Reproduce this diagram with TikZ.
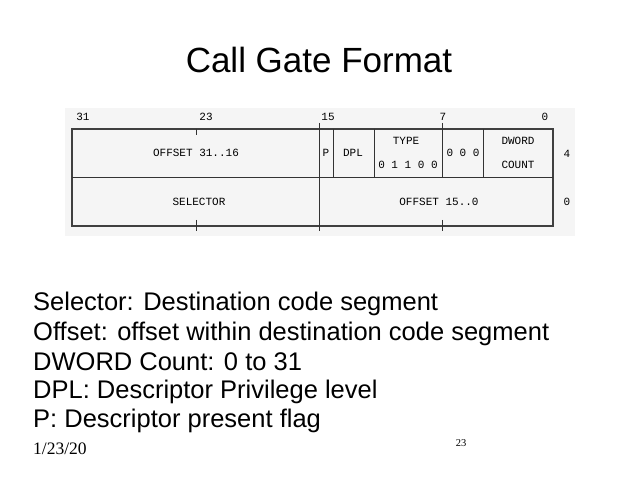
\documentclass[tikz,border=0pt]{standalone}
\usepackage{fontspec}
\setmainfont{Liberation Sans}
\newfontfamily\serif{Liberation Serif}
\newfontfamily\mono{Liberation Mono}
\begin{document}
\begin{tikzpicture}[x=1pt,y=-1pt,
  bit/.style={font=\mono\fontsize{11}{11}\selectfont,inner sep=0pt},
  body/.style={anchor=west,font=\fontsize{25.5}{25.5}\selectfont,inner sep=0pt},
  frame/.style={draw=black!75,line width=1.6pt},
  cell/.style={draw=black!80,line width=0.9pt}]
\useasboundingbox (0,0) rectangle (638,478);
\fill[black!4] (65,108) rectangle (575,236);
\node[font=\fontsize{35}{35}\selectfont] (title) at (319,60) {Call Gate Format};
% bit numbers
\node[bit] (b31) at (83,117) {31};
\node[bit] (b23) at (206,117) {23};
\node[bit] (b15) at (328,117) {15};
\node[bit] (b7) at (443,117) {7};
\node[bit] (b0) at (545,117) {0};
% frame
\draw[frame] (72,129) rectangle (553,226);
\draw[cell] (72,177) -- (553,177);
\draw[cell] (319,123) -- (319,231);
\draw[cell] (333,129) -- (333,177);
\draw[cell] (374,129) -- (374,177);
\draw[cell] (442,123) -- (442,177);
\draw[cell] (483,129) -- (483,177);
\draw[cell] (196,129) -- (196,135);
\draw[cell] (196,220) -- (196,231);
\draw[cell] (442,220) -- (442,231);
% fields
\node[bit] (off1) at (196,153) {OFFSET 31..16};
\node[bit] (p) at (326,153) {P};
\node[bit] (dpl) at (353,153) {DPL};
\node[bit] (type) at (406,141) {TYPE};
\node[bit] (typev) at (408,165) {0 1 1 0 0};
\node[bit] (zero) at (463,153) {0 0 0};
\node[bit] (dw) at (518,141) {DWORD};
\node[bit] (cnt) at (518,165) {COUNT};
\node[bit] (r4) at (567,154) {4};
\node[bit] (sel) at (199,202) {SELECTOR};
\node[bit] (off2) at (439,202) {OFFSET 15..0};
\node[bit] (r0) at (567,202) {0};
% text
\node[body] (t1) at (33,304) {Selector: Destination code segment};
\node[body] (t2) at (33,334) {Offset: offset within destination code segment};
\node[body] (t3) at (33,362) {DWORD Count: 0 to 31};
\node[body] (t4) at (33,392) {DPL: Descriptor Privilege level};
\node[body] (t5) at (33,421) {P: Descriptor present flag};
\node[anchor=west,inner sep=0pt,font=\serif\fontsize{17.5}{17.5}\selectfont] (date) at (33,449) {1/23/20};
\node[inner sep=0pt,font=\serif\fontsize{10.5}{10.5}\selectfont] (pg) at (461,443) {23};
\end{tikzpicture}
\end{document}
